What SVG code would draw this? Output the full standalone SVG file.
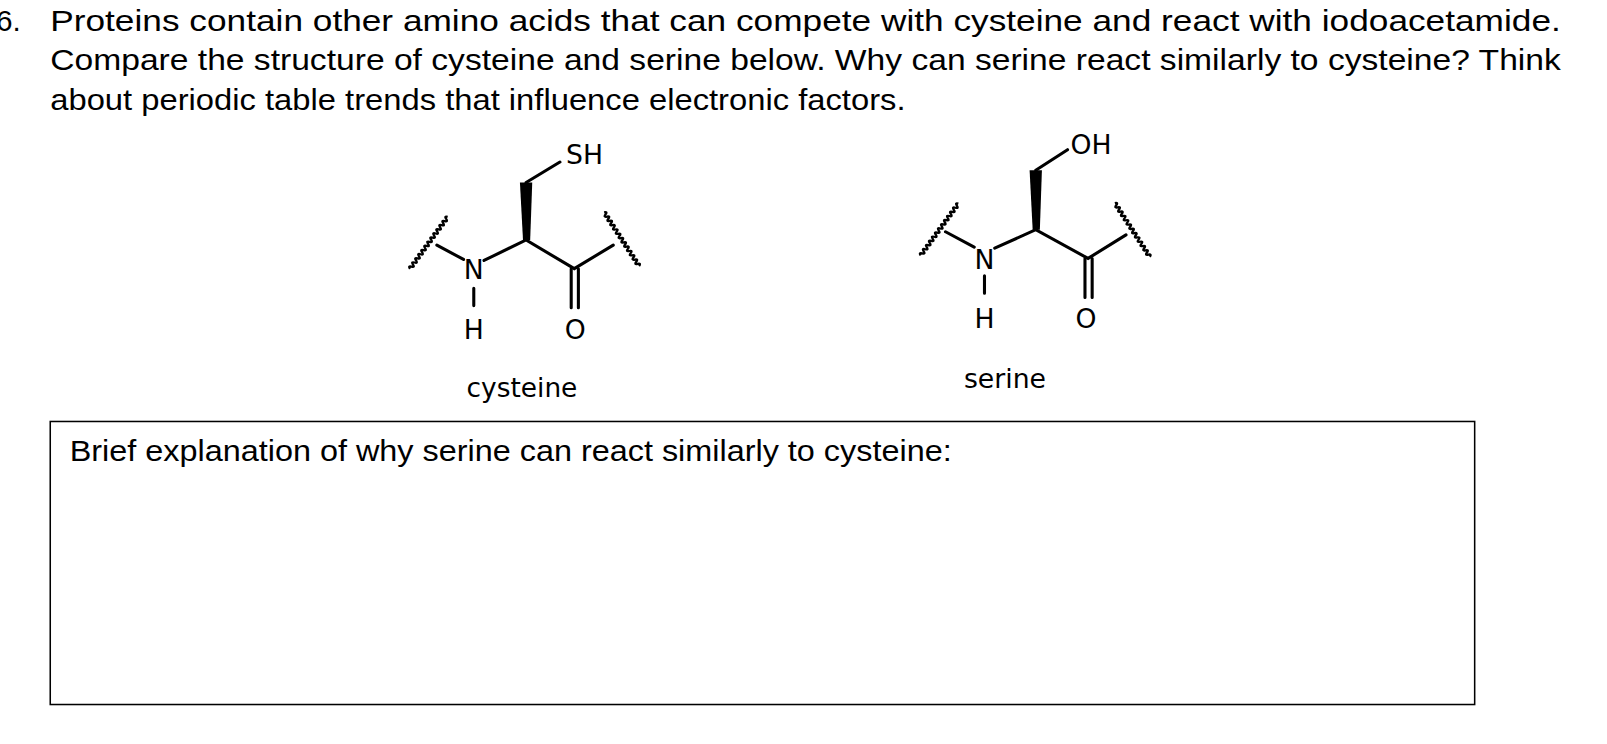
<svg xmlns="http://www.w3.org/2000/svg" width="1607" height="744" viewBox="0 0 1607 744">
<style>
text{font-family:"Liberation Sans",Arial,sans-serif;fill:#000}
.q{font-size:29px}
.a{font-size:26px;text-anchor:middle;font-family:"DejaVu Sans","Liberation Sans",sans-serif}
.b{stroke:#000;stroke-width:3;fill:none;stroke-linecap:round}
.w{stroke:#000;stroke-width:2.2;fill:none}
</style>
<defs>
<path id="wave" d="M-31,0 q1.25,-3.5 2.5,0 t2.5,0 t2.5,0 t2.5,0 t2.5,0 t2.5,0 t2.5,0 t2.5,0 t2.5,0 t2.5,0 t2.5,0 t2.5,0 t2.5,0 t2.5,0 t2.5,0 t2.5,0 t2.5,0 t2.5,0 t2.5,0 t2.5,0 t2.5,0 t2.5,0 t2.5,0 t2.5,0 t2.5,0"/>
</defs>
<rect width="1607" height="744" fill="#fff"/>
<g transform="scale(1.0255)">
<text class="q" x="-4" y="30">6.</text>
<text class="q" x="49" y="30" textLength="1473" lengthAdjust="spacingAndGlyphs">Proteins contain other amino acids that can compete with cysteine and react with iodoacetamide.</text>
<text class="q" x="49" y="68" textLength="1473" lengthAdjust="spacingAndGlyphs">Compare the structure of cysteine and serine below. Why can serine react similarly to cysteine? Think</text>
<text class="q" x="49" y="107" textLength="834" lengthAdjust="spacingAndGlyphs">about periodic table trends that influence electronic factors.</text>
<g id="cysteine">
<use href="#wave" class="w" transform="translate(418,237) rotate(-54)"/>
<use href="#wave" class="w" transform="translate(606,233) rotate(57)"/>
<path class="b" d="M426,239 L452,253 M472,254 L513,234 L560,262 L598,239 M513,178 L546,158 M462,281 L462,298"/>
<path d="M510,234 L517,234 L519,178 L507,178 Z" fill="#000"/>
<path class="b" d="M557,262 V300 M564,262 V300"/>
<text class="a" x="462" y="272">N</text>
<text class="a" x="462" y="331">H</text>
<text class="a" x="561" y="331">O</text>
<text class="a" x="570" y="160">SH</text>
<text class="a" x="509" y="387" textLength="108" lengthAdjust="spacingAndGlyphs">cysteine</text>
</g>
<g id="serine">
<use href="#wave" class="w" transform="translate(916,224) rotate(-54)"/>
<use href="#wave" class="w" transform="translate(1104,224) rotate(57)"/>
<path class="b" d="M922,226 L950,241 M970,242 L1010,224 L1061,252 L1098,229 M1010,166 L1041,146 M960,269 L960,286"/>
<path d="M1007,224 L1014,224 L1016,166 L1004,166 Z" fill="#000"/>
<path class="b" d="M1058,252 V290 M1065,252 V290"/>
<text class="a" x="960" y="262">N</text>
<text class="a" x="960" y="320">H</text>
<text class="a" x="1059" y="320">O</text>
<text class="a" x="1064" y="150">OH</text>
<text class="a" x="980" y="378" textLength="80" lengthAdjust="spacingAndGlyphs">serine</text>
</g>
<g id="answer-box">
<rect x="49" y="411" width="1389" height="276" fill="none" stroke="#000" stroke-width="1.5"/>
<text class="q" x="68" y="450" textLength="860" lengthAdjust="spacingAndGlyphs">Brief explanation of why serine can react similarly to cysteine:</text>
</g>
</g>
</svg>
